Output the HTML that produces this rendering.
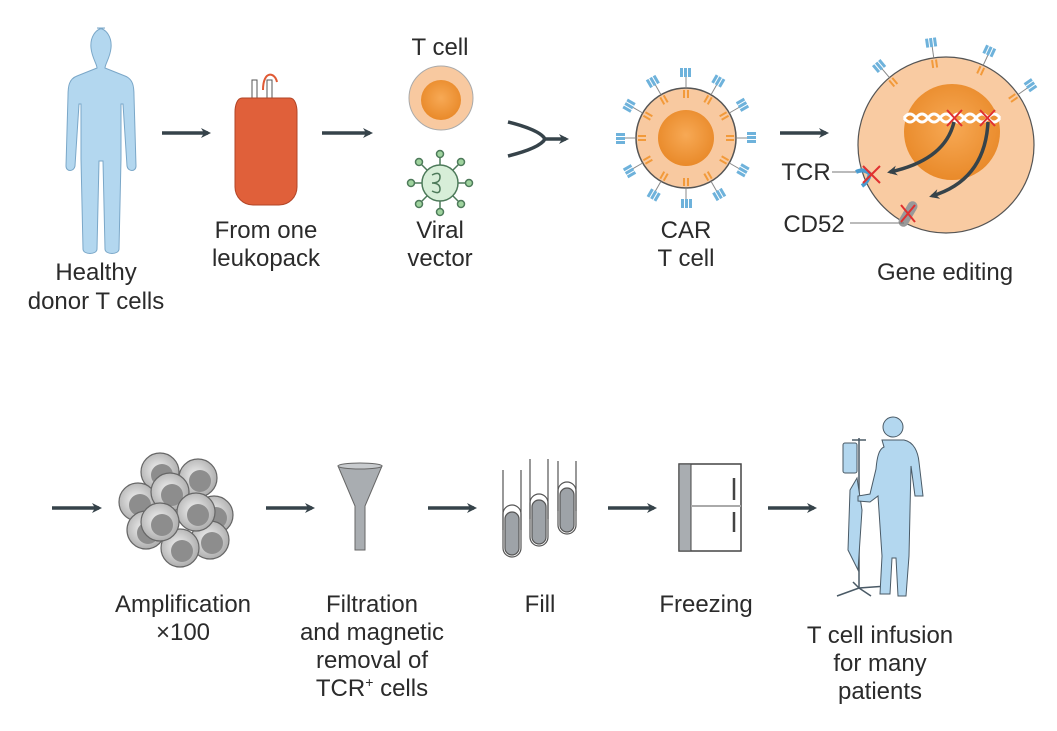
<!DOCTYPE html>
<html><head><meta charset="utf-8"><style>
html,body{margin:0;padding:0;background:#fff;}
svg{display:block}
text{font-family:"Liberation Sans",sans-serif;font-size:24px;fill:#2b2b2b;text-anchor:middle}
</style></head><body>
<svg width="1057" height="731" viewBox="0 0 1057 731" xmlns="http://www.w3.org/2000/svg">
<defs>
<marker id="ah" markerWidth="10" markerHeight="10" refX="7" refY="5" orient="auto" markerUnits="userSpaceOnUse"><path d="M0,0 L10,5 L0,10 L3,5 Z" fill="#36434a"/></marker>
<radialGradient id="org" cx="50%" cy="45%" r="55%"><stop offset="0" stop-color="#f7a955"/><stop offset="1" stop-color="#e98a2a"/></radialGradient>
<radialGradient id="gry" cx="45%" cy="45%" r="60%"><stop offset="0" stop-color="#f2f2f2"/><stop offset="1" stop-color="#a8a8a8"/></radialGradient>
<g id="cell"><circle r="19" fill="url(#gry)" stroke="#666" stroke-width="1.2"/><circle cx="2" cy="3" r="11" fill="#8d8d8d"/></g>
<g id="car"><line x1="0" y1="0" x2="0" y2="-12" stroke="#888" stroke-width="1"/><rect x="-6" y="-20" width="3" height="9" fill="#6eb2db"/><rect x="-2" y="-20" width="3" height="9" fill="#6eb2db"/><rect x="2" y="-20" width="3" height="9" fill="#6eb2db"/><rect x="-3" y="2" width="2" height="8" fill="#f29a3a"/><rect x="1" y="2" width="2" height="8" fill="#f29a3a"/></g>
</defs>
<g stroke="#36434a" stroke-width="3.5" fill="none" marker-end="url(#ah)">
<line x1="162" y1="133" x2="208" y2="133"/><line x1="322" y1="133" x2="370" y2="133"/>
<line x1="780" y1="133" x2="826" y2="133"/>
<line x1="52" y1="508" x2="99" y2="508"/><line x1="266" y1="508" x2="312" y2="508"/>
<line x1="428" y1="508" x2="474" y2="508"/><line x1="608" y1="508" x2="654" y2="508"/>
<line x1="768" y1="508" x2="814" y2="508"/>
<path d="M508,122 Q540,130 545,139 M508,156 Q540,148 545,139 L566,139"/>
</g>
<path d="M105,28 c-10,0 -15,10 -14,20 c1,10 6,16 6,20 l-20,8 c-8,3 -9,10 -9,20 l-2,70 c0,6 8,6 9,0 l4,-62 l2,0 l0,55 l2,90 c0,6 14,6 14,0 l2,-88 l4,0 l2,88 c0,6 14,6 14,0 l2,-90 l0,-55 l2,0 l4,62 c1,6 9,6 9,0 l-2,-70 c0,-10 -1,-17 -9,-20 l-20,-8 c0,-4 5,-10 6,-20 c1,-10 -4,-20 -14,-20 z" fill="#b3d7ef" stroke="#7aa7c8" stroke-width="1"/>
<path d="M263,90 c0,-20 12,-18 14,-8" stroke="#e05a35" stroke-width="2" fill="none"/>
<rect x="252" y="80" width="5" height="18" fill="#fff" stroke="#555"/><rect x="267" y="80" width="5" height="18" fill="#fff" stroke="#555"/>
<path d="M242,98 h48 c5,0 7,8 7,14 v75 c0,10 -8,18 -18,18 h-26 c-10,0 -18,-8 -18,-18 v-75 c0,-6 2,-14 7,-14z" fill="#e0603a" stroke="#b24527" stroke-width="1"/>
<circle cx="441" cy="98" r="32" fill="#f8c9a0" stroke="#aaa"/><circle cx="441" cy="100" r="20" fill="url(#org)"/>
<g transform="translate(440,183)" stroke="#4d7a5a" stroke-width="1.5">
<g stroke="#4d7a5a"><line x1="-28" y1="0" x2="28" y2="0"/><line x1="0" y1="-28" x2="0" y2="28"/><line x1="-20" y1="-20" x2="20" y2="20"/><line x1="-20" y1="20" x2="20" y2="-20"/></g>
<circle r="18" fill="#d7eed8"/><path d="M-8,-8 q8,-4 8,2 q0,6 -8,6 q8,0 8,6 q0,6 -8,2" fill="none"/>
<g fill="#9fd39e"><circle cx="-29" cy="0" r="3.5"/><circle cx="29" cy="0" r="3.5"/><circle cx="0" cy="-29" r="3.5"/><circle cx="0" cy="29" r="3.5"/><circle cx="-21" cy="-21" r="3.5"/><circle cx="21" cy="21" r="3.5"/><circle cx="-21" cy="21" r="3.5"/><circle cx="21" cy="-21" r="3.5"/></g>
</g>
<circle cx="686" cy="138" r="50" fill="#f8c9a0" stroke="#555" stroke-width="1.5"/>
<circle cx="686" cy="138" r="28" fill="url(#org)"/>
<g transform="translate(686,138)">
<g transform="rotate(0) translate(0,-50)"><use href="#car"/></g><g transform="rotate(30) translate(0,-50)"><use href="#car"/></g><g transform="rotate(60) translate(0,-50)"><use href="#car"/></g><g transform="rotate(90) translate(0,-50)"><use href="#car"/></g><g transform="rotate(120) translate(0,-50)"><use href="#car"/></g><g transform="rotate(150) translate(0,-50)"><use href="#car"/></g><g transform="rotate(180) translate(0,-50)"><use href="#car"/></g><g transform="rotate(210) translate(0,-50)"><use href="#car"/></g><g transform="rotate(240) translate(0,-50)"><use href="#car"/></g><g transform="rotate(270) translate(0,-50)"><use href="#car"/></g><g transform="rotate(300) translate(0,-50)"><use href="#car"/></g><g transform="rotate(330) translate(0,-50)"><use href="#car"/></g>
</g>
<circle cx="946" cy="145" r="88" fill="#f9cba2" stroke="#555" stroke-width="1.2"/>
<g transform="translate(946,145)">
<g transform="rotate(-40) translate(0,-88)"><use href="#car"/></g><g transform="rotate(-8) translate(0,-88)"><use href="#car"/></g><g transform="rotate(25) translate(0,-88)"><use href="#car"/></g><g transform="rotate(55) translate(0,-88)"><use href="#car"/></g>
</g>
<circle cx="952" cy="132" r="48" fill="url(#org)"/>
<path d="M904,118 q6,-8 12,0 t12,0 t12,0 t12,0 t12,0 t12,0 t12,0 t12,0" stroke="#fff" stroke-width="3" fill="none"/>
<path d="M904,118 q6,8 12,0 t12,0 t12,0 t12,0 t12,0 t12,0 t12,0 t12,0" stroke="#fff" stroke-width="3" fill="none"/>
<g stroke="#e03030" stroke-width="2"><line x1="947" y1="110" x2="962" y2="126"/><line x1="962" y1="110" x2="947" y2="126"/><line x1="980" y1="110" x2="995" y2="126"/><line x1="995" y1="110" x2="980" y2="126"/></g>
<g stroke="#36434a" stroke-width="3.5" fill="none" marker-end="url(#ah)">
<path d="M954,122 Q945,160 890,172"/><path d="M988,122 Q985,180 932,196"/>
</g>
<path d="M856,172 q8,-4 14,2 q-2,8 -8,12" stroke="#4a9bcf" stroke-width="4" fill="none"/>
<rect x="903" y="200" width="10" height="28" rx="5" fill="#999" transform="rotate(30 908 214)"/>
<g stroke="#e03030" stroke-width="2"><line x1="863" y1="166" x2="880" y2="183"/><line x1="880" y1="166" x2="863" y2="183"/><line x1="901" y1="205" x2="915" y2="222"/><line x1="915" y1="205" x2="901" y2="222"/></g>
<line x1="832" y1="172" x2="856" y2="172" stroke="#777"/><line x1="850" y1="223" x2="904" y2="223" stroke="#777"/>
<g><use href="#cell" x="160" y="472"/><use href="#cell" x="198" y="478"/><use href="#cell" x="138" y="502"/><use href="#cell" x="170" y="492"/><use href="#cell" x="214" y="515"/><use href="#cell" x="146" y="530"/><use href="#cell" x="210" y="540"/><use href="#cell" x="180" y="548"/><use href="#cell" x="196" y="512"/><use href="#cell" x="160" y="522"/></g>
<path d="M338,466 h44 l-17,40 v44 h-10 v-44 z" fill="#a9adb1" stroke="#666"/>
<ellipse cx="360" cy="466" rx="22" ry="3" fill="#c8cbce" stroke="#666"/>
<g stroke="#555" stroke-width="1.2">
<rect x="503" y="505" width="18" height="52" rx="9" fill="#fff"/><rect x="505" y="512" width="14" height="43" rx="7" fill="#9ea3a8"/>
<rect x="530" y="494" width="18" height="52" rx="9" fill="#fff"/><rect x="532" y="500" width="14" height="44" rx="7" fill="#9ea3a8"/>
<rect x="558" y="482" width="18" height="52" rx="9" fill="#fff"/><rect x="560" y="488" width="14" height="44" rx="7" fill="#9ea3a8"/>
<path d="M503,470 v60 M521,470 v60 M530,459 v60 M548,459 v60 M558,461 v50 M576,461 v50" fill="none"/>
</g>
<rect x="679" y="464" width="62" height="87" fill="#fff" stroke="#444" stroke-width="1.5"/>
<rect x="679" y="464" width="12" height="87" fill="#a9adb1" stroke="#444"/>
<line x1="691" y1="506" x2="741" y2="506" stroke="#aaa" stroke-width="2"/>
<line x1="734" y1="478" x2="734" y2="500" stroke="#444" stroke-width="2.5"/><line x1="734" y1="512" x2="734" y2="532" stroke="#444" stroke-width="2.5"/>
<g stroke="#4a5a66" stroke-width="1.5" fill="none"><line x1="859" y1="438" x2="859" y2="588"/><line x1="852" y1="440" x2="866" y2="440"/><path d="M859,588 l-22,8 M859,588 l12,8 M859,588 l28,-2 M859,588 l-6,-6"/></g>
<g fill="#b3d7ef" stroke="#4a5a66" stroke-width="1">
<rect x="843" y="443" width="14" height="30" rx="2"/>
<path d="M857,478 l-7,12 l-2,60 l10,20 l4,-60 z"/>
<circle cx="893" cy="427" r="10"/>
<path d="M882,440 h22 c10,2 14,12 15,22 l4,34 h-8 l-4,-30 l-2,90 l-3,40 h-8 l-2,-38 h-4 l-2,36 h-10 l2,-38 l-4,-60 l-8,6 l-12,-1 l0,-5 l12,-2 l6,-25 c1,-12 3,-20 8,-22z"/>
</g>
<text x="96" y="280">Healthy</text><text x="96" y="309">donor T cells</text>
<text x="266" y="238">From one</text><text x="266" y="266">leukopack</text>
<text x="440" y="55">T cell</text>
<text x="440" y="238">Viral</text><text x="440" y="266">vector</text>
<text x="686" y="238">CAR</text><text x="686" y="266">T cell</text>
<text x="806" y="180">TCR</text><text x="814" y="232">CD52</text>
<text x="945" y="280">Gene editing</text>
<text x="183" y="612">Amplification</text><text x="183" y="640">×100</text>
<text x="372" y="612">Filtration</text><text x="372" y="640">and magnetic</text><text x="372" y="668">removal of</text><text x="372" y="696">TCR<tspan font-size="14" dy="-9">+</tspan><tspan dy="9"> cells</tspan></text>
<text x="540" y="612">Fill</text>
<text x="706" y="612">Freezing</text>
<text x="880" y="643">T cell infusion</text><text x="880" y="671">for many</text><text x="880" y="699">patients</text>
</svg>
</body></html>
